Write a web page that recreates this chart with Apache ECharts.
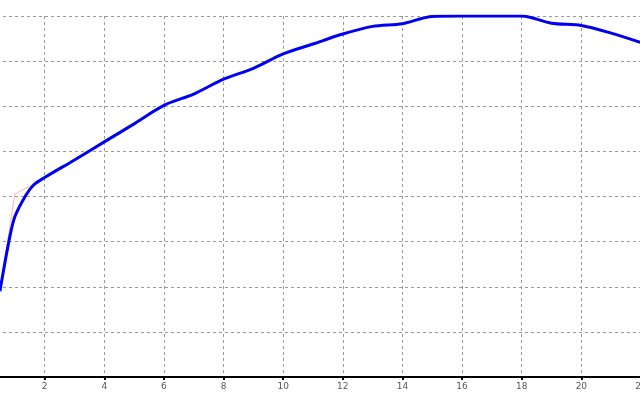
<!DOCTYPE html>
<html><head><meta charset="utf-8">
<script src="https://cdn.jsdelivr.net/npm/echarts@6/dist/echarts.min.js"></script>
<style>html,body{margin:0;padding:0;background:#fff;overflow:hidden;width:640px;height:400px}
#c{position:absolute;left:-15px;top:0;width:656px;height:400px}</style>
</head><body><div id="c"></div>
<script>
// smoothed curve readings
const smoothX = [0.5, 0.8, 1.0, 1.37, 1.64, 2, 3, 4, 5, 6, 7, 8, 9, 10, 11, 12, 13, 14, 15, 16, 17, 18, 19, 20, 21, 22];
const smoothY = [1.9, 3.0, 3.55, 4.03, 4.26, 4.42, 4.81, 5.21, 5.61, 6.02, 6.27, 6.6, 6.84, 7.16, 7.38, 7.6, 7.77, 7.83, 7.99, 8.0, 8.0, 8.0, 7.84, 7.79, 7.62, 7.41];
// faint raw line readings
const rawX = [0.5, 1, 2, 3, 4];
const rawY = [1.9, 4.05, 4.42, 4.81, 5.21];
const xTicks = {min: 0, max: 22, step: 2};
const yTicks = {min: 0, max: 8, step: 1};

const zip = (a, b) => a.map((v, i) => [v, b[i]]);
const chart = echarts.init(document.getElementById('c'), null, {renderer: 'canvas'});
chart.setOption({
  animation: false,
  grid: {left: 0, right: 0, top: 16, bottom: 23, containLabel: false, outerBoundsMode: 'none'},
  xAxis: {
    type: 'value', min: xTicks.min, max: xTicks.max, interval: xTicks.step,
    axisLine: {show: true, onZero: false, lineStyle: {color: '#000', width: 2}},
    axisTick: {show: true, length: 3, lineStyle: {color: '#000', width: 2}},
    axisLabel: {color: '#555', fontSize: 9, fontFamily: 'DejaVu Sans', margin: 5},
    splitLine: {show: true, lineStyle: {color: '#999', type: [3, 3], width: 1}}
  },
  yAxis: {
    type: 'value', min: yTicks.min, max: yTicks.max, interval: yTicks.step,
    axisLine: {show: false}, axisTick: {show: false}, axisLabel: {show: false},
    splitLine: {show: true, lineStyle: {color: '#999', type: [3, 3], width: 1}}
  },
  series: [
    {type: 'line', data: zip(rawX, rawY), showSymbol: false, smooth: false,
     lineStyle: {color: 'rgba(240,150,150,0.7)', width: 1}, z: 1},
    {type: 'line', data: zip(smoothX, smoothY), showSymbol: false, smooth: 0.3,
     lineStyle: {color: '#0000f0', width: 3}, z: 2}
  ]
});
</script></body></html>
